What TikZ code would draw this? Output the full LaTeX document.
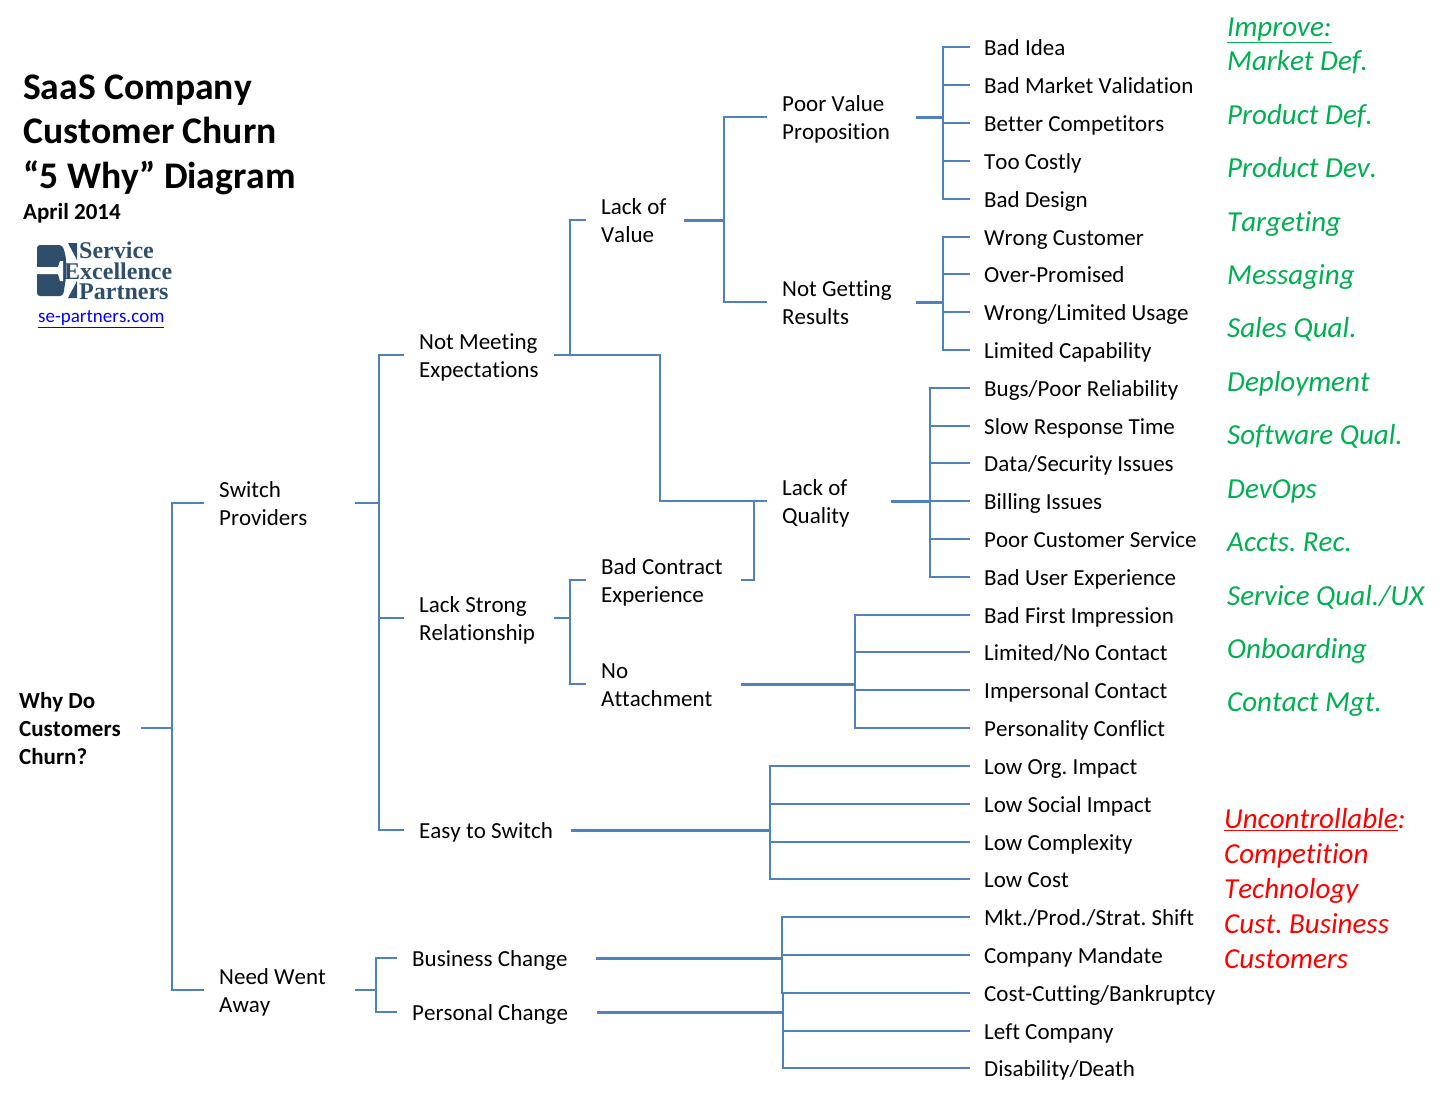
\documentclass[tikz,border=0pt]{standalone}
\usepackage{fontspec}
\setmainfont[Kerning=Off, Ligatures=NoCommon]{Carlito}
\newfontfamily\logofont{Liberation Serif}
\usetikzlibrary{arrows.meta, calc, positioning}
\definecolor{linkblue}{RGB}{79,129,189}
\definecolor{improvegreen}{RGB}{0,176,80}
\definecolor{logoblue}{RGB}{46,78,107}
\frenchspacing
\newcommand{\rowstrut}{\rule[-.2\baselineskip]{0pt}{\baselineskip}}
\tikzset{
    branch/.style={draw=linkblue, line width=2pt},
    stem/.style={draw=linkblue, line width=3pt},
    plaintext/.style={anchor=west, inner sep=0pt, execute at begin node=\rowstrut, execute at end node=\rowstrut},
    twig/.style={plaintext, inner xsep=15pt, align=flush left, font=\fontsize{23}{28}\selectfont},
    leaf/.style={plaintext, inner xsep=14pt, font=\fontsize{23}{28}\selectfont},
    improve/.style={plaintext, text=improvegreen, font=\fontsize{29}{34}\selectfont\itshape},
    outside/.style={plaintext, text=red, font=\fontsize{29}{34}\selectfont\itshape},
    heading/.style={plaintext, font=\fontsize{37.6}{44}\selectfont\bfseries},
    logotext/.style={anchor=west, inner sep=0pt, text=logoblue, font=\fontsize{24}{24}\logofont\bfseries}
}
\begin{document}
\begin{tikzpicture}[x=1pt, y=-1pt]
    \useasboundingbox (0,0) rectangle (1441,1096);

    % Title block
    \node[heading] (title1) at (23,86) {SaaS Company};
    \node[heading] (title2) at (23,130) {Customer Churn};
    \node[heading] (title3) at (23,175) {“5 Why” Diagram};
    \node[plaintext, font=\fontsize{23}{28}\selectfont\bfseries] (date) at (23,211) {April 2014};

    % Logo
    \fill[logoblue, rounded corners=3pt] (37,245) -- (62,245) .. controls (65,252) and (66,258) .. (66,264) -- (66,278) -- (63,296) -- (37,296) -- cycle;
    \fill[logoblue] (68,243) -- (77,243) -- (77,260) -- cycle;
    \fill[logoblue] (68,298) -- (77,298) -- (77,281) -- cycle;
    \fill[white] (37,267) -- (58,267) -- (60,261) -- (63,261) -- (63,281) -- (60,281) -- (58,274) -- (37,274) -- cycle;
    \node[logotext] (logo1) at (79,250) {Service};
    \node[logotext] (logo2) at (64,271) {Excellence};
    \node[logotext] (logo3) at (79,292) {Partners};
    \node[plaintext, text=blue, font=\fontsize{19}{22}\selectfont] (site) at (38,316) {\underline{se-partners.com}};

    % Root and first two levels
    \node[plaintext, text width=122pt, align=flush left, font=\fontsize{23}{28}\selectfont\bfseries] (churn) at (19,728) {Why Do\\Customers\\Churn?};
    \node[twig, text width=121pt] (switch) at (204,503) {Switch\\Providers};
    \node[twig, text width=121pt] (need) at (204,990) {Need Went\\Away};
    \coordinate (forkchurn) at (172,728);
    \draw[branch] (churn.east) -- (forkchurn);
    \draw[branch] (need.west) -| (forkchurn) |- (switch.west);

    \node[twig, text width=120pt] (meet) at (404,355) {Not Meeting\\Expectations};
    \node[twig, text width=120pt] (strong) at (404,618) {Lack Strong\\Relationship};
    \node[twig, text width=137pt] (easy) at (404,830) {Easy to Switch};
    \coordinate (forkswitch) at (379,503);
    \draw[branch] (switch.east) -- (forkswitch);
    \draw[branch] (meet.west) -| (forkswitch) |- (easy.west);
    \draw[branch] (forkswitch |- strong.west) -- (strong.west);

    % Not Meeting Expectations
    \node[twig, text width=68pt] (value) at (586,220) {Lack of\\Value};
    \node[twig, text width=94pt] (quality) at (767,501) {Lack of\\Quality};
    \coordinate (forkmeet) at (570,355);
    \coordinate (bendmeet) at (660,355);
    \draw[branch] (meet.east) -- (bendmeet) |- (quality.west);
    \draw[branch] (forkmeet) |- (value.west);

    % Lack of Value
    \node[twig, text width=119pt] (prop) at (767,117) {Poor Value\\Proposition};
    \node[twig, text width=119pt] (results) at (767,302) {Not Getting\\Results};
    \coordinate (forkvalue) at (724,220);
    \draw[stem] (value.east) -- (forkvalue);
    \draw[branch] (prop.west) -| (forkvalue) |- (results.west);

    \coordinate (forkprop) at (943,117);
    \draw[stem] (prop.east) -- (forkprop);
    \foreach \n/\y/\t in {idea/47/Bad Idea, market/85/Bad Market Validation, rivals/123/Better Competitors, costly/161/Too Costly, design/199/Bad Design} {
        \node[leaf] (\n) at (970,\y) {\t};
        \draw[branch] (forkprop) |- (\n.west);
    }

    \coordinate (forkresults) at (943,302);
    \draw[stem] (results.east) -- (forkresults);
    \foreach \n/\y/\t in {wrongcust/237/Wrong Customer, promised/274/Over-Promised, usage/312/{Wrong/Limited Usage}, capability/350/Limited Capability} {
        \node[leaf] (\n) at (970,\y) {\t};
        \draw[branch] (forkresults) |- (\n.west);
    }

    % Lack of Quality
    \coordinate (forkquality) at (930,501);
    \draw[stem] (quality.east) -- (forkquality);
    \foreach \n/\y/\t in {bugs/388/{Bugs/Poor Reliability}, slow/426/Slow Response Time, data/463/{Data/Security Issues}, billing/501/Billing Issues, service/539/Poor Customer Service, ux/577/Bad User Experience} {
        \node[leaf] (\n) at (970,\y) {\t};
        \draw[branch] (forkquality) |- (\n.west);
    }

    % Lack Strong Relationship
    \node[twig, text width=125pt] (contract) at (586,580) {Bad Contract\\Experience};
    \node[twig, text width=125pt] (attach) at (586,684) {No\\Attachment};
    \coordinate (forkstrong) at (570,618);
    \coordinate (bendcontract) at (754,580);
    \draw[branch] (strong.east) -- (forkstrong);
    \draw[branch] (contract.west) -| (forkstrong) |- (attach.west);
    \draw[branch] (contract.east) -- (bendcontract) -- (bendcontract |- quality.west);

    \coordinate (forkattach) at (855,684);
    \draw[stem] (attach.east) -- (forkattach);
    \foreach \n/\y/\t in {impression/615/Bad First Impression, contact/652/{Limited/No Contact}, impersonal/690/Impersonal Contact, conflict/728/Personality Conflict} {
        \node[leaf] (\n) at (970,\y) {\t};
        \draw[branch] (forkattach) |- (\n.west);
    }

    % Easy to Switch
    \coordinate (forkeasy) at (770,830);
    \draw[stem] (easy.east) -- (forkeasy);
    \foreach \n/\y/\t in {orgimpact/766/Low Org. Impact, socimpact/804/Low Social Impact, complexity/842/Low Complexity, lowcost/879/Low Cost} {
        \node[leaf] (\n) at (970,\y) {\t};
        \draw[branch] (forkeasy) |- (\n.west);
    }

    % Need Went Away
    \node[twig, text width=169pt] (business) at (397,958) {Business Change};
    \node[twig, text width=170pt] (personal) at (397,1012) {Personal Change};
    \coordinate (forkneed) at (376,990);
    \draw[branch] (need.east) -- (forkneed);
    \draw[branch] (business.west) -| (forkneed) |- (personal.west);

    \coordinate (forkbusiness) at (782,958);
    \draw[stem] (business.east) -- (forkbusiness);
    \foreach \n/\y/\t in {strategy/917/{Mkt./Prod./Strat. Shift}, mandate/955/Company Mandate, cutting/993/{Cost-Cutting/Bankruptcy}} {
        \node[leaf] (\n) at (970,\y) {\t};
        \draw[branch] (forkbusiness) |- (\n.west);
    }
    \coordinate (forkpersonal) at (783,1012);
    \draw[stem] (personal.east) -- (forkpersonal);
    \draw[branch] (forkpersonal) -- (forkpersonal |- cutting.west);
    \foreach \n/\y/\t in {left/1031/Left Company, death/1068/{Disability/Death}} {
        \node[leaf] (\n) at (970,\y) {\t};
        \draw[branch] (forkpersonal) |- (\n.west);
    }

    % Things to improve
    \node[improve] (improve) at (1227,26) {\underline{Improve:}};
    \foreach \n/\y/\t in {mdef/60/Market Def., pdef/114/Product Def., pdev/167/Product Dev., target/221/Targeting, msg/274/Messaging, sales/327/Sales Qual., deploy/381/Deployment, softq/434/Software Qual., devops/488/DevOps, accts/541/Accts. Rec., servq/595/{Service Qual./UX}, onboard/648/Onboarding, cmgt/701/Contact Mgt.} {
        \node[improve] (\n) at (1227,\y) {\t};
    }

    % Things outside control
    \node[outside] (uncontrol) at (1224,818) {\underline{Uncontrollable}:};
    \foreach \n/\y/\t in {competition/853/Competition, technology/888/Technology, custbiz/923/Cust. Business, customers/958/Customers} {
        \node[outside] (\n) at (1224,\y) {\t};
    }
\end{tikzpicture}
\end{document}
